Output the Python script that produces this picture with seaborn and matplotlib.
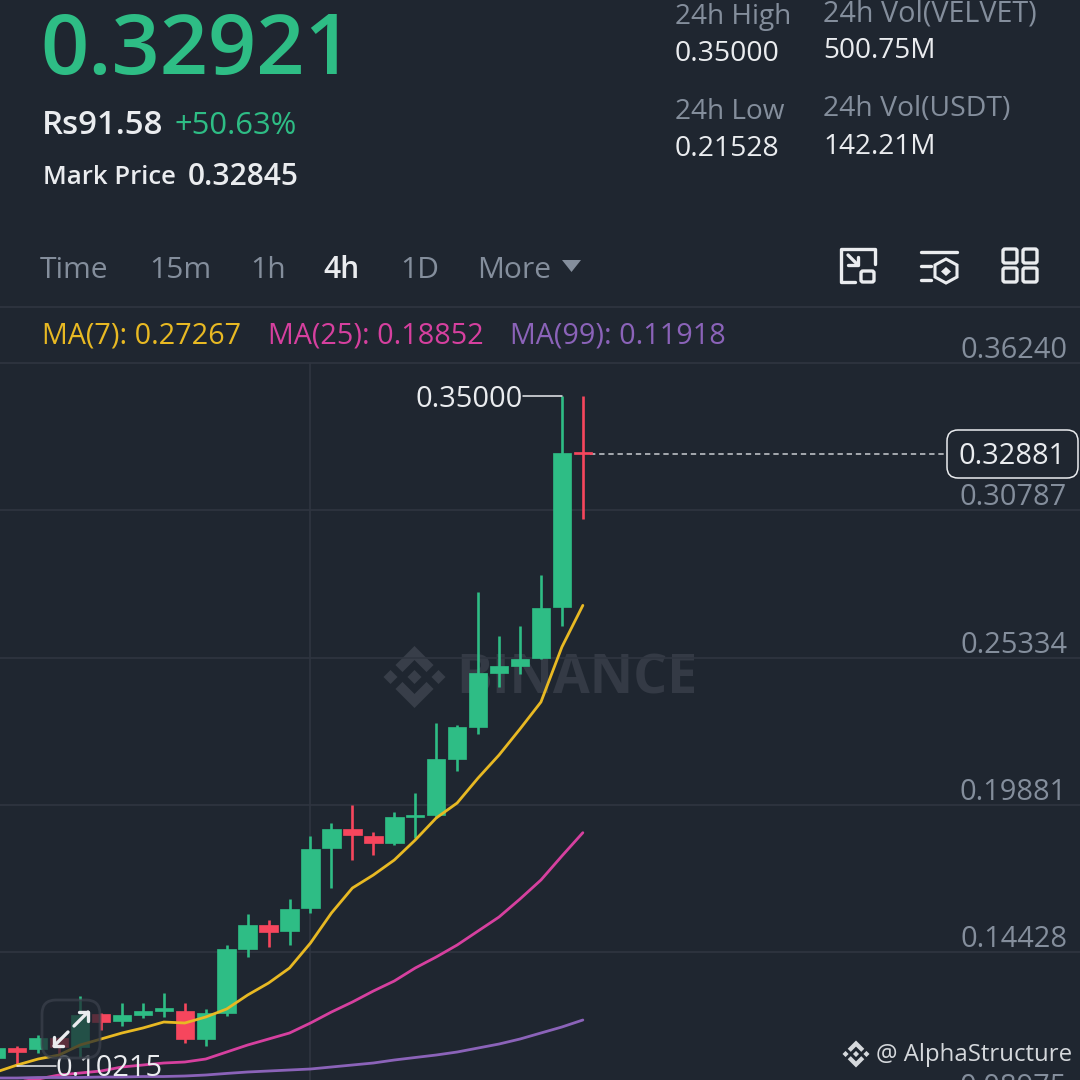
import numpy as np
import pandas as pd
import matplotlib
matplotlib.use('Agg')
import matplotlib.pyplot as plt
from matplotlib.patches import FancyBboxPatch, Polygon
import seaborn as sns

# candle values, oldest first
opens = [.10511, .10881, .10844, .11251, .10918, .12140, .11881, .12103, .12251, .12251,
         .11214, .12177, .14546, .15435, .15213, .16064, .18285, .18989, .18730, .18470,
         .19433, .19507, .21580, .22765, .24764, .25023, .25319, .27207, .32927]
closes = [.10881, .10733, .11251, .10918, .12103, .11844, .12103, .12251, .12362, .11214,
          .12177, .14546, .15435, .15176, .16027, .18248, .18989, .18767, .18470, .19433,
          .19525, .21580, .22765, .24764, .25023, .25282, .27170, .32908, .32881]
highs = [.10950, .10955, .11363, .11289, .12806, .12177, .12547, .12547, .12917, .12547,
         .12325, .14694, .15842, .15620, .16397, .18730, .19211, .19877, .18878, .19618,
         .20321, .22913, .22839, .27762, .26134, .26504, .28392, .35000, .35000]
lows = [.10511, .10215, .10696, .10585, .10548, .11548, .11696, .11992, .12029, .11066,
        .10955, .12066, .14250, .14620, .14694, .15879, .16804, .17841, .18026, .18396,
        .18655, .19396, .21136, .22506, .24246, .24727, .25282, .26504, .30465]

ma7 = [.09993, .10252, .10474, .10622, .10992, .11214, .11437, .11622, .11844, .11807,
       .12029, .12325, .12843, .13288, .13843, .14768, .15879, .16804, .17286, .17841,
       .18581, .19396, .19951, .20877, .21728, .22691, .23690, .25726, .27267]
ma25 = [.09500, .09623, .09734, .09882, .09956, .10030, .10178, .10252, .10326, .10363,
        .10474, .10733, .10992, .11214, .11437, .11807, .12214, .12584, .12991, .13362,
        .13843, .14250, .14694, .15213, .15731, .16397, .17101, .17989, .18852]
ma99 = [.09771, .09771, .09790, .09790, .09790, .09808, .09808, .09826, .09826, .09845,
        .09882, .09940, .09993, .10030, .10067, .10104, .10178, .10252, .10326, .10437,
        .10530, .10622, .10733, .10881, .11029, .11214, .11437, .11659, .11918]

price_ticks = [0.36240, 0.30787, 0.25334, 0.19881, 0.14428, 0.08975]
last_price = 0.32881
high_mark = 0.35000
low_mark = 0.10215

BG = '#1f2630'
GREEN = '#2ebd85'
RED = '#f6465d'
GREY = '#848e9c'
WHITE = '#eaecef'
GRID = '#2f3540'
YELLOW = '#e8b923'
PINK = '#d6409f'
PURPLE = '#8b63b9'

sns.set_theme(style='dark', rc={'axes.facecolor': BG, 'figure.facecolor': BG})
plt.rcParams['font.family'] = ['Open Sans', 'DejaVu Sans']

fig = plt.figure(figsize=(10.8, 10.8), dpi=100)

# pixel canvas under the chart, holds the header and the watermark
ui = fig.add_axes([0, 0, 1, 1], zorder=0)
ui.set_xlim(0, 1080)
ui.set_ylim(1080, 0)
ui.axis('off')


def label(ax, x, y, s, px, color=WHITE, weight='normal', ha='left'):
    ax.text(x, y, s, fontsize=px * 0.72, color=color, weight=weight, ha=ha, va='center', zorder=6)


def logo(ax, cx, cy, r, color):
    k = r / 63.3
    top = [(-24.57, -10.1), (0, -34.67), (24.58, -10.1), (38.89, -24.4), (0, -63.3), (-38.88, -24.42)]
    bottom = [(px, -py) for px, py in top]
    shapes = [top, bottom]
    for dx in (-49, 0, 49):
        shapes.append([(dx - 14.3, 0), (dx, -14.3), (dx + 14.3, 0), (dx, 14.3)])
    for s in shapes:
        ax.add_patch(Polygon([(cx + a * k, cy + b * k) for a, b in s], closed=True, fc=color, ec='none'))


def icon_line(ax, xs, ys, lw=2.2, color=WHITE):
    ax.plot(xs, ys, color=color, lw=lw, solid_capstyle='round', solid_joinstyle='round')


def round_box(ax, x0, y0, x1, y1, pad=2, **kw):
    ax.add_patch(FancyBboxPatch((x0, y0), x1 - x0, y1 - y0, boxstyle=f'round,pad=0,rounding_size={pad}', **kw))


# header
label(ui, 40, 52, '0.32921', 84.5, GREEN, 'semibold')
label(ui, 42, 125, 'Rs91.58', 33, WHITE, 'semibold')
label(ui, 175, 126, '+50.63%', 31, GREEN)
label(ui, 43, 177, 'Mark Price', 25.8, WHITE, 'semibold')
label(ui, 188, 177, '0.32845', 30, WHITE, 'semibold')

label(ui, 675, 17, '24h High', 28, GREY)
label(ui, 675, 54, '0.35000', 28.4, WHITE)
label(ui, 823, 14, '24h Vol(VELVET)', 28.7, GREY)
label(ui, 823, 51, '500.75M', 28, WHITE)
label(ui, 675, 112, '24h Low', 28, GREY)
label(ui, 675, 149, '0.21528', 28.4, WHITE)
label(ui, 823, 109, '24h Vol(USDT)', 28.4, GREY)
label(ui, 823, 147, '142.21M', 28, WHITE)

# interval tabs
for x, s in [(40, 'Time'), (149, '15m'), (250, '1h'), (400, '1D'), (477, 'More')]:
    label(ui, x, 270, s, 30, GREY)
label(ui, 323, 270, '4h', 30, WHITE, 'semibold')
ui.add_patch(Polygon([(562, 260), (581, 260), (571.5, 272)], closed=True, fc=GREY, ec='none'))

# toolbar icons
icon_line(ui, [855, 841, 841, 875, 875], [282, 282, 249, 249, 264], lw=2.4)
round_box(ui, 861, 271, 874, 282, fc='none', ec=WHITE, lw=2.4)
icon_line(ui, [848, 858], [255, 265], lw=2.4)
icon_line(ui, [848, 858, 858], [265, 265, 257], lw=2.4)

icon_line(ui, [921, 957], [252, 252], lw=2.4)
icon_line(ui, [921, 931], [266, 266], lw=2.4)
icon_line(ui, [921, 931], [280, 280], lw=2.4)
ui.add_patch(Polygon([(946, 259), (957, 265), (957, 277), (946, 283), (935, 277), (935, 265)],
                     closed=True, fc='none', ec=WHITE, lw=2.2))
ui.add_patch(Polygon([(946, 267), (951, 271.5), (946, 276), (941, 271.5)], closed=True, fc=WHITE, ec='none'))

for x0 in (1003, 1023):
    for y0 in (249, 268):
        round_box(ui, x0, y0, x0 + 14, y0 + 14, fc='none', ec=WHITE, lw=2.4)

ui.plot([0, 1080], [306.5, 306.5], color=GRID, lw=1.2)

# moving average legend
label(ui, 42, 336, 'MA(7): 0.27267', 28.7, YELLOW)
label(ui, 268, 336, 'MA(25): 0.18852', 28.7, PINK)
label(ui, 510, 336, 'MA(99): 0.11918', 28.7, PURPLE)

# watermark
logo(ui, 414.5, 677, 31, '#383e49')
ui.text(577, 680, 'BINANCE', fontsize=38.5, weight='bold', color='#343a45', ha='center', va='center')

# chart, same width as the figure, x is candle number
ax = fig.add_axes([0, 0, 1, 773 / 1080], zorder=1)
ax.patch.set_alpha(0)
for side in ax.spines.values():
    side.set_visible(False)

df = pd.DataFrame({'n': np.arange(len(opens)), 'open': opens, 'close': closes,
                   'high': highs, 'low': lows, 'ma7': ma7, 'ma25': ma25, 'ma99': ma99})
df['up'] = df['close'] >= df['open']
colors = df['up'].map({True: GREEN, False: RED})

ax.axvline(15, color=GRID, lw=1.2, zorder=1, ymax=(0.36240 - 0.09697) / (0.38313 - 0.09697))
ax.vlines(df['n'], df['low'], df['high'], colors=colors, lw=1.9, zorder=3)
ax.bar(df['n'], (df['close'] - df['open']).abs(), bottom=df[['open', 'close']].min(axis=1),
       width=0.88, color=colors, edgecolor=colors, linewidth=0.5, zorder=3)

sns.lineplot(data=df, x='n', y='ma7', color=YELLOW, lw=2, ax=ax, zorder=4)
sns.lineplot(data=df, x='n', y='ma25', color=PINK, lw=2, ax=ax, zorder=4)
sns.lineplot(data=df, x='n', y='ma99', color=PURPLE, lw=2, ax=ax, zorder=4)

ax.set_xlim(0.18, 51.73)
ax.set_ylim(0.09697, 0.38313)
ax.set_xticks([])
ax.set_yticks([])
ax.set_xlabel('')
ax.set_ylabel('')
ax.grid(False)

for p in price_ticks:
    ax.axhline(p, color=GRID, lw=1.2, zorder=1)
    ax.annotate(f'{p:.5f}', xy=(1, p), xycoords=('axes fraction', 'data'), xytext=(-13 * 0.72, -2 * 0.72),
                textcoords='offset points', ha='right', va='bottom', fontsize=29 * 0.72, color=GREY,
                annotation_clip=False, zorder=2)

# last price line and box
ax.plot([28.35, 45.3], [last_price, last_price], color='#c9ccd1', lw=1.1, ls=(0, (3.5, 2.5)), zorder=2)
ui2 = fig.add_axes([0, 0, 1, 1], zorder=2)
ui2.set_xlim(0, 1080)
ui2.set_ylim(1080, 0)
ui2.axis('off')
round_box(ui2, 947, 430, 1078, 478, pad=11, fc=BG, ec=WHITE, lw=1.1, zorder=5)
label(ui2, 1012.5, 457, f'{last_price:.5f}', 29, WHITE, ha='center')

# high and low marks
ax.plot([25.15, 27], [high_mark, high_mark], color=WHITE, lw=1.1, zorder=5)
ax.annotate(f'{high_mark:.5f}', xy=(25.15, high_mark), xytext=(0, -2), textcoords='offset points',
            ha='right', va='center', fontsize=29 * 0.72, color=WHITE, zorder=5)
ax.plot([1, 2.85], [low_mark, low_mark], color=WHITE, lw=1.1, zorder=5)
ax.annotate(f'{low_mark:.5f}', xy=(2.85, low_mark), xytext=(0, -1.5), textcoords='offset points',
            ha='left', va='center', fontsize=29 * 0.72, color=WHITE, zorder=5)

# floating expand button
round_box(ui2, 42, 1000, 100, 1058, pad=14, fc=BG, ec='#3b414c', lw=2, alpha=0.72)
icon_line(ui2, [74, 88], [1026, 1012], lw=2.4)
icon_line(ui2, [79, 88, 88], [1012, 1012, 1021], lw=2.4)
icon_line(ui2, [68, 54], [1032, 1046], lw=2.4)
icon_line(ui2, [54, 54, 63], [1037, 1046, 1046], lw=2.4)

# footer tag
logo(ui2, 856, 1054, 13.5, '#d5d8dc')
label(ui2, 876, 1055, '@ AlphaStructure', 24, '#d5d8dc')

fig.savefig('out.png', dpi=100, facecolor=BG)
